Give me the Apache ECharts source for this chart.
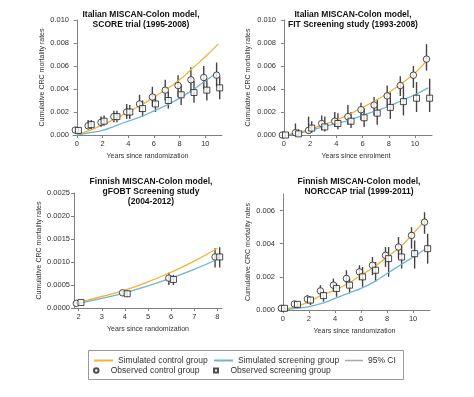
<!DOCTYPE html>
<html>
<head>
<meta charset="utf-8">
<script src="https://cdn.jsdelivr.net/npm/echarts@6.0.0/dist/echarts.min.js"></script>
<style>
  html, body { margin: 0; padding: 0; background: #fff; }
  #chart { width: 474px; height: 397px; }
</style>
</head>
<body>
<div id="chart"></div>
<script>
// ---- data ----
const yearsFull = [0, 1, 2, 3, 4, 5, 6, 7, 8, 9, 10, 11];
const yearsFobt = [2, 4, 6, 8];
const yearsFobtSim = [2, 3, 4, 5, 6, 7, 8];

// Italian model, SCORE trial
const scoreSimCtrl = [0.00005, 0.0004, 0.0009, 0.0014, 0.002, 0.0026, 0.0033, 0.004, 0.0048, 0.0058, 0.0068, 0.0079];
const scoreSimScr  = [0, 0.0002, 0.0004, 0.0008, 0.0012, 0.0016, 0.0021, 0.0026, 0.0032, 0.0039, 0.0047, 0.0055];
const scoreObsCtrl = [0.00043, 0.0008, 0.0011, 0.0016, 0.002, 0.0027, 0.0033, 0.0039, 0.0043, 0.0048, 0.005, 0.0052];
const scoreCtrlLo  = [0.0002, 0.0005, 0.0007, 0.0011, 0.0014, 0.002, 0.0025, 0.003, 0.0033, 0.0037, 0.004, 0.0042];
const scoreCtrlHi  = [0.0007, 0.0013, 0.0016, 0.0021, 0.0027, 0.0035, 0.0042, 0.0048, 0.0052, 0.0059, 0.006, 0.0063];
const scoreObsScr  = [0.0004, 0.0009, 0.0012, 0.0016, 0.002, 0.0023, 0.0027, 0.003, 0.0035, 0.0037, 0.0039, 0.0041];
const scoreScrLo   = [0.0002, 0.0005, 0.0008, 0.0011, 0.0014, 0.0016, 0.002, 0.0023, 0.0026, 0.0028, 0.003, 0.0031];
const scoreScrHi   = [0.0007, 0.0013, 0.0017, 0.0021, 0.0026, 0.003, 0.0035, 0.0038, 0.0044, 0.0047, 0.0049, 0.0051];

// Italian model, FIT screening study
const fitSimCtrl = [0, 0.0002, 0.0005, 0.0009, 0.0013, 0.0018, 0.0024, 0.003, 0.0037, 0.0045, 0.0054, 0.0066];
const fitSimScr  = [0, 0.0001, 0.0004, 0.0007, 0.001, 0.0013, 0.0017, 0.0021, 0.0025, 0.003, 0.0035, 0.0041];
const fitObsCtrl = [0, 0.0002, 0.0004, 0.001, 0.0012, 0.0016, 0.0022, 0.0026, 0.0034, 0.0043, 0.0052, 0.0066];
const fitCtrlLo  = [0, 0, 0.0001, 0.0004, 0.0007, 0.0009, 0.0013, 0.0017, 0.0024, 0.0034, 0.0041, 0.0056];
const fitCtrlHi  = [0.0001, 0.001, 0.0016, 0.0017, 0.002, 0.0026, 0.0028, 0.0033, 0.0043, 0.0051, 0.006, 0.0079];
const fitObsScr  = [0, 0.0001, 0.0006, 0.0007, 0.001, 0.0012, 0.0015, 0.0019, 0.0024, 0.0029, 0.0032, 0.0032];
const fitScrLo   = [0, 0, 0.0002, 0.0003, 0.0005, 0.0006, 0.0007, 0.0009, 0.0014, 0.0017, 0.002, 0.002];
const fitScrHi   = [0.0001, 0.0005, 0.0012, 0.0016, 0.0019, 0.002, 0.0023, 0.0031, 0.0037, 0.0043, 0.0046, 0.0049];

// Finnish model, gFOBT screening study
const fobtSimCtrl = [0.00012, 0.00025, 0.00039, 0.00057, 0.00078, 0.00102, 0.0013];
const fobtSimScr  = [0.0001, 0.00021, 0.00033, 0.00048, 0.00065, 0.00084, 0.00106];
const fobtObsCtrl = [0.0001, 0.00033, 0.00065, 0.00111];
const fobtCtrlLo  = [0.00008, 0.00026, 0.0005, 0.00088];
const fobtCtrlHi  = [0.00013, 0.0004, 0.00077, 0.0013];
const fobtObsScr  = [0.00012, 0.00031, 0.00062, 0.00111];
const fobtScrLo   = [0.0001, 0.00024, 0.0005, 0.00088];
const fobtScrHi   = [0.00014, 0.00038, 0.00072, 0.00132];

// Finnish model, NORCCAP trial
const norSimCtrl = [0, 0.0002, 0.0005, 0.0009, 0.0012, 0.0016, 0.0021, 0.0026, 0.0032, 0.0038, 0.0046, 0.0055];
const norSimScr  = [0, 0.0001, 0.0002, 0.0004, 0.0007, 0.001, 0.0013, 0.0017, 0.0022, 0.0027, 0.0032, 0.0037];
const norObsCtrl = [0.0001, 0.00036, 0.00066, 0.00115, 0.0015, 0.0019, 0.0023, 0.0027, 0.0033, 0.0038, 0.0045, 0.0053];
const norCtrlLo  = [0.00005, 0.0002, 0.0004, 0.0008, 0.0011, 0.0015, 0.0018, 0.0021, 0.0026, 0.0031, 0.0037, 0.0046];
const norCtrlHi  = [0.00015, 0.0005, 0.0009, 0.0015, 0.0019, 0.0024, 0.0027, 0.0032, 0.0038, 0.0044, 0.005, 0.0059];
const norObsScr  = [0.0001, 0.00034, 0.0006, 0.00087, 0.0013, 0.0015, 0.002, 0.0024, 0.0031, 0.0032, 0.0034, 0.0037];
const norScrLo   = [0.00005, 0.0001, 0.0003, 0.0005, 0.0008, 0.001, 0.0014, 0.0017, 0.002, 0.0025, 0.0025, 0.0028];
const norScrHi   = [0.00015, 0.0005, 0.0008, 0.0011, 0.0016, 0.0019, 0.0026, 0.0029, 0.0038, 0.0039, 0.0042, 0.0046];

// tick labels
const xTicksFull = [0, 2, 4, 6, 8, 10];
const xTicksFobt = [2, 3, 4, 5, 6, 7, 8];
const yTicksItaly = [0, 0.002, 0.004, 0.006, 0.008, 0.010];
const yTicksFobt = [0, 0.0005, 0.0010, 0.0015, 0.0020, 0.0025];
const yTicksNor = [0, 0.002, 0.004, 0.006];

const FONT = "'Liberation Sans', Arial, sans-serif";
const ORANGE = "#f2b338";
const BLUE = "#6cb6d6";
const CI_COLOR = "#444444";
const SQUARE = "path://M0,0 L10,0 L10,10 L0,10 Z";

const chart = echarts.init(document.getElementById("chart"));

// pairs years with values; dodge shifts observed points sideways like the figure
const pair = (xs, ys, dodge) => xs.map((x, i) => [x + (dodge || 0), ys[i]]);
const ciRows = (xs, lo, hi, dodge) => xs.map((x, i) => [x + dodge, lo[i], hi[i]]);

function renderCi(params, api) {
    const x = api.value(0);
    const p1 = api.coord([x, api.value(1)]);
    const p2 = api.coord([x, api.value(2)]);
    return {
        type: "line",
        shape: { x1: p1[0], y1: p1[1], x2: p2[0], y2: p2[1] },
        style: { stroke: CI_COLOR, lineWidth: 1.4 }
    };
}

function panelSeries(idx, p) {
    return [
        {
            name: "95% CI", type: "custom", xAxisIndex: idx, yAxisIndex: idx,
            renderItem: renderCi, encode: { x: 0, y: [1, 2] },
            itemStyle: { color: "#aaaaaa" }, z: 1,
            data: ciRows(p.obsX, p.ctrlLo, p.ctrlHi, -p.dodge).concat(ciRows(p.obsX, p.scrLo, p.scrHi, p.dodge))
        },
        {
            name: "Simulated control group", type: "line", xAxisIndex: idx, yAxisIndex: idx,
            smooth: true, symbol: "none", z: 2,
            lineStyle: { color: ORANGE, width: 1.3 }, itemStyle: { color: ORANGE },
            data: pair(p.simX, p.simCtrl)
        },
        {
            name: "Simulated screening group", type: "line", xAxisIndex: idx, yAxisIndex: idx,
            smooth: true, symbol: "none", z: 2,
            lineStyle: { color: BLUE, width: 1.3 }, itemStyle: { color: BLUE },
            data: pair(p.simX, p.simScr)
        },
        {
            name: "Observed control group", type: "scatter", xAxisIndex: idx, yAxisIndex: idx,
            symbol: "circle", symbolSize: 6.5, z: 3,
            itemStyle: { color: "#fff", borderColor: "#222", borderWidth: 1 },
            data: pair(p.obsX, p.obsCtrl, -p.dodge)
        },
        {
            name: "Observed screening group", type: "scatter", xAxisIndex: idx, yAxisIndex: idx,
            symbol: "rect", symbolSize: 6, z: 3,
            itemStyle: { color: "#fff", borderColor: "#222", borderWidth: 1 },
            data: pair(p.obsX, p.obsScr, p.dodge)
        }
    ];
}

const panels = [
    { simX: yearsFull, simCtrl: scoreSimCtrl, simScr: scoreSimScr, obsX: yearsFull, dodge: 0.12,
      obsCtrl: scoreObsCtrl, ctrlLo: scoreCtrlLo, ctrlHi: scoreCtrlHi,
      obsScr: scoreObsScr, scrLo: scoreScrLo, scrHi: scoreScrHi },
    { simX: yearsFull, simCtrl: fitSimCtrl, simScr: fitSimScr, obsX: yearsFull, dodge: 0.12,
      obsCtrl: fitObsCtrl, ctrlLo: fitCtrlLo, ctrlHi: fitCtrlHi,
      obsScr: fitObsScr, scrLo: fitScrLo, scrHi: fitScrHi },
    { simX: yearsFobtSim, simCtrl: fobtSimCtrl, simScr: fobtSimScr, obsX: yearsFobt, dodge: 0.1,
      obsCtrl: fobtObsCtrl, ctrlLo: fobtCtrlLo, ctrlHi: fobtCtrlHi,
      obsScr: fobtObsScr, scrLo: fobtScrLo, scrHi: fobtScrHi },
    { simX: yearsFull, simCtrl: norSimCtrl, simScr: norSimScr, obsX: yearsFull, dodge: 0.12,
      obsCtrl: norObsCtrl, ctrlLo: norCtrlLo, ctrlHi: norCtrlHi,
      obsScr: norObsScr, scrLo: norScrLo, scrHi: norScrHi }
];

const axisBase = {
    axisLine: { lineStyle: { color: "#808080", width: 1 } },
    axisTick: { show: true, length: 3, lineStyle: { color: "#808080" } },
    splitLine: { show: false },
    nameLocation: "middle",
    nameTextStyle: { fontSize: 7, color: "#333", fontFamily: FONT }
};

function xAxis(idx, min, max, ticks, name) {
    return Object.assign({}, axisBase, {
        type: "value", gridIndex: idx, min: min, max: max, name: name, nameGap: 18,
        axisTick: Object.assign({}, axisBase.axisTick, { customValues: ticks }),
        axisLabel: { customValues: ticks, fontSize: 7.5, color: "#333", margin: 5, fontFamily: FONT }
    });
}

function yAxis(idx, max, ticks, digits, gap) {
    return Object.assign({}, axisBase, {
        type: "value", gridIndex: idx, min: 0, max: max,
        name: "Cumulative CRC mortality rates", nameGap: gap,
        axisTick: Object.assign({}, axisBase.axisTick, { customValues: ticks }),
        axisLabel: { customValues: ticks, fontSize: 7.5, color: "#333", margin: 4, fontFamily: FONT,
                     formatter: v => v.toFixed(digits) }
    });
}

const titleText = (x, y, text) => ({
    type: "text", x: x, y: y, z: 10,
    style: { text: text, textAlign: "center", font: "bold 8.5px " + FONT, lineHeight: 10, fill: "#111" }
});

const legendBase = {
    orient: "horizontal", itemWidth: 19, itemHeight: 5, itemGap: 0, padding: 0,
    textStyle: { fontSize: 8.5, color: "#333", fontFamily: FONT }, selectedMode: false
};
const legendAt = (left, top, name, extra) =>
    Object.assign({}, legendBase, { left: left, top: top, data: [name] }, extra || {});

const option = {
    animation: false,
    textStyle: { fontFamily: FONT },
    grid: [
        { left: 73, top: 20, width: 149, height: 115 },
        { left: 280, top: 20, width: 152, height: 115 },
        { left: 74, top: 193, width: 148, height: 115 },
        { left: 279, top: 194, width: 151, height: 116 }
    ],
    xAxis: [
        xAxis(0, -0.3, 11.3, xTicksFull, "Years since randomization"),
        xAxis(1, -0.3, 11.3, xTicksFull, "Years since enrolment"),
        xAxis(2, 1.8, 8.2, xTicksFobt, "Years since randomization"),
        xAxis(3, -0.3, 11.3, xTicksFull, "Years since randomization")
    ],
    yAxis: [
        yAxis(0, 0.010, yTicksItaly, 3, 27),
        yAxis(1, 0.010, yTicksItaly, 3, 28),
        yAxis(2, 0.0025, yTicksFobt, 4, 31),
        yAxis(3, 0.007, yTicksNor, 3, 27)
    ],
    legend: [
        legendAt(93, 356, "Simulated control group", { itemHeight: 1.5 }),
        legendAt(213, 356, "Simulated screening group", { itemHeight: 1.5 }),
        legendAt(345, 356, { name: "95% CI", icon: "rect", itemStyle: { color: "#aaaaaa" } }, { itemWidth: 18, itemHeight: 1.5 }),
        legendAt(93, 366, { name: "Observed control group", icon: "circle" }, { itemHeight: 4.5 }),
        legendAt(213, 366, { name: "Observed screening group", icon: SQUARE }, { itemHeight: 4 })
    ],
    graphic: [
        titleText(141, 10, "Italian MISCAN-Colon model,\nSCORE trial (1995-2008)"),
        titleText(353, 10, "Italian MISCAN-Colon model,\nFIT Screening study (1993-2008)"),
        titleText(151, 177, "Finnish MISCAN-Colon model,\ngFOBT Screening study\n(2004-2012)"),
        titleText(359, 177, "Finnish MISCAN-Colon model,\nNORCCAP trial (1999-2011)"),
        { type: "rect", shape: { x: 88.5, y: 350.5, width: 315, height: 29 },
          style: { fill: "none", stroke: "#999", lineWidth: 1 }, z: 0 }
    ],
    series: panels.flatMap((p, i) => panelSeries(i, p))
};

chart.setOption(option);
</script>
</body>
</html>
